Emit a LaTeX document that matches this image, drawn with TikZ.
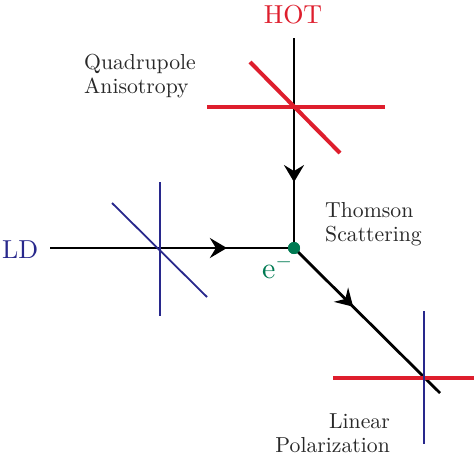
\RequirePackage{fix-cm}
\documentclass[tikz,border=0pt]{standalone}
\usepackage{fontspec}
\newfontfamily\tenrm{lmroman10-regular.otf}
\usetikzlibrary{arrows.meta,decorations.markings,calc}
\definecolor{hotred}{RGB}{222,30,45}
\definecolor{ldblue}{RGB}{40,40,140}
\definecolor{egreen}{RGB}{0,122,82}
\definecolor{txt}{RGB}{40,40,40}
\begin{document}
\begin{tikzpicture}[x=1pt,y=-1pt,
  beam/.style={line width=2.8pt, draw=black},
  midarrow/.style={postaction={decorate},decoration={markings,mark=at position #1 with {\arrow{Stealth[length=17pt,width=20pt,inset=6pt]}}}},
  redbar/.style={draw=hotred,line width=4pt},
  bluebar/.style={draw=ldblue,line width=1.8pt},
  lbl/.style={text=txt,inner sep=0pt,font=\tenrm\fontsize{21.7}{24.5}\selectfont},
  big/.style={inner sep=0pt,font=\tenrm\fontsize{26}{30}\selectfont}]
\useasboundingbox (0,0) rectangle (474,474);
% key points
\node[circle,fill=egreen,inner sep=0pt,minimum size=12pt] (e) at (294,248) {};
\coordinate (hottop) at (294,38);
\coordinate (ldleft) at (50,248);
\coordinate (lpend) at (440,393);
\coordinate (q) at (294,107);
\coordinate (ldx) at (160,248);
\coordinate (lp) at (424,378);
% beams
\draw[beam,midarrow=0.686] (hottop) -- (e.center);
\draw[beam,midarrow=0.725] (ldleft) -- (e.center);
\draw[beam,midarrow=0.405] (e.center) -- (lpend);
% quadrupole cross
\draw[redbar] ($(q)+(-87,0)$) -- ($(q)+(91,0)$);
\draw[redbar] ($(q)+(-44,-45)$) -- ($(q)+(46,46)$);
% LD cross
\draw[bluebar] ($(ldx)+(0,-66)$) -- ($(ldx)+(0,68)$);
\draw[bluebar] ($(ldx)+(-48,-45)$) -- ($(ldx)+(47,49)$);
% linear polarization cross
\draw[redbar] ($(lp)+(-91,0)$) -- ($(lp)+(50,0)$);
\draw[bluebar] ($(lp)+(0,-67)$) -- ($(lp)+(0,66)$);
% electron on top
\node[circle,fill=egreen,inner sep=0pt,minimum size=12pt] at (e.center) {};
% labels
\node[big,text=hotred,anchor=base] (hot) at (293,23) {HOT};
\node[big,text=ldblue,anchor=base west] (ld) at (2,258) {LD};
\node[inner sep=0pt,text=egreen,anchor=base west,font=\tenrm\fontsize{30}{34}\selectfont] (el) at (262,278) {e$^{-}$};
\node[lbl,anchor=west,align=left] (quad) at (84,76) {Quadrupole\\Anisotropy};
\node[lbl,anchor=west,align=left] (thom) at (325,224) {Thomson\\Scattering};
\node[lbl,anchor=east,align=right] (linp) at (390,433) {Linear\\Polarization};
\end{tikzpicture}
\end{document}
